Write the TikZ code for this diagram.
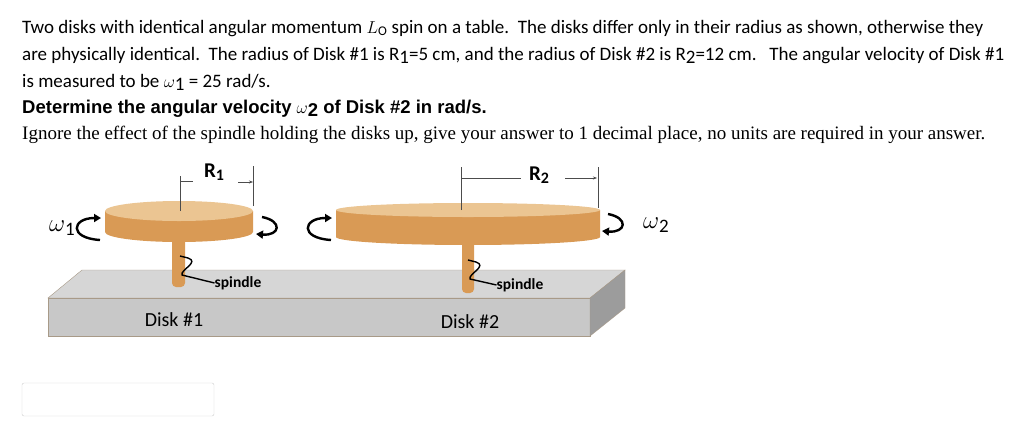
\documentclass[tikz,border=0pt]{standalone}
\usepackage{fontspec}
\setmainfont{Carlito}
\newfontfamily\seriff{Liberation Serif}
\usetikzlibrary{arrows.meta}
\newcommand{\lo}[1]{\raisebox{-0.35ex}{#1}}
\definecolor{dtop}{HTML}{EBC592}
\definecolor{dside}{HTML}{D99A55}
\definecolor{tedge}{HTML}{A89A88}
\definecolor{ttop}{HTML}{D6D6D6}
\definecolor{tfront}{HTML}{C8C8C8}
\definecolor{tside}{HTML}{9C9C9C}
\tikzset{
  txt/.style={anchor=base west,inner sep=0pt,font=\fontsize{19}{22}\selectfont},
  lab/.style={inner sep=0pt,font=\fontsize{20}{24}\selectfont},
  dim/.style={draw=black!70,line width=0.5pt},
  rot/.style={line width=2.4pt,-{Triangle[length=7pt,width=8pt]}},
  squig/.style={line width=1.4pt},
}
\begin{document}
\begin{tikzpicture}[x=1pt,y=-1pt]
\useasboundingbox (0,0) rectangle (1024,437);
\node[txt] (l1) at (22,33) {Two disks with identical angular momentum $L_{\mathrm{O}}$ spin on a table.\ \ The disks differ only in their radius as shown, otherwise they};
\node[txt] (l2) at (22,60) {are physically identical.\ \ The radius of Disk \#1 is R\lo{1}=5 cm, and the radius of Disk \#2 is R\lo{2}=12 cm.\ \ \ The angular velocity of Disk \#1};
\node[txt] (l3) at (22,87) {is measured to be $\omega$\lo{1} = 25 rad/s.};
\node[txt,font=\fontsize{18.5}{22}\bfseries\selectfont\fontspec{Liberation Sans}] (l4) at (22,113) {Determine the angular velocity $\omega$\lo{2} of Disk \#2 in rad/s.};
\node[txt,font=\fontsize{19}{22}\seriff] (l5) at (22,139) {Ignore the effect of the spindle holding the disks up, give your answer to 1 decimal place, no units are required in your answer.};
% table
\fill[ttop,draw=tedge] (48,298) -- (82,270) -- (625,270) -- (590,298) -- cycle;
\fill[tfront,draw=tedge] (48,298) rectangle (590,336);
\fill[tside,draw=tedge] (590,298) -- (625,270) -- (625,308) -- (590,336) -- cycle;
\node[lab] (d1) at (174,320) {Disk \#1};
\node[lab] (d2) at (470,322) {Disk \#2};
% spindles
\fill[dside,rounded corners=4pt] (172,236) rectangle (185,287);
\fill[dside,rounded corners=4pt] (462,240) rectangle (474,293);
% disk 1
\fill[dside] (105,211) -- (105,232) arc[start angle=180,end angle=0,x radius=74,y radius=10] -- (253,211) -- cycle;
\fill[dtop] (179,211) ellipse[x radius=74,y radius=10];
% disk 2
\fill[dside] (336,210) -- (336,237) arc[start angle=180,end angle=0,x radius=132,y radius=8] -- (600,210) -- cycle;
\fill[dtop] (468,210) ellipse[x radius=132,y radius=7];
% squiggles
\node[inner sep=0pt,font=\fontsize{15.5}{18}\bfseries\selectfont] (s1) at (238,283) {spindle};
\node[inner sep=0pt,font=\fontsize{15.5}{18}\bfseries\selectfont] (s2) at (520,285) {spindle};
\draw[squig] (180,256) -- (188,258) .. controls (200,262) and (180,270) .. (182,275) -- (s1.west);
\draw[squig] (468,260) -- (476,262) .. controls (488,266) and (468,274) .. (470,279) -- (s2.west);
% dimensions
\coordinate (c1) at (180,211); \coordinate (c1t) at (180,176);
\coordinate (e1) at (253,206); \coordinate (e1t) at (253,166);
\draw[dim] (c1) -- (c1t); \draw[dim] (e1) -- (e1t);
\node[lab,font=\fontsize{21}{24}\bfseries\selectfont] (r1) at (214,172) {R\lo{\fontsize{16}{18}\selectfont 1}};
\draw[dim] (180,181) -- (193,181);
\draw[dim,-{Stealth[length=4pt]}] (238,182) -- (253,182);
\coordinate (c2) at (461,210); \coordinate (c2t) at (461,167);
\coordinate (e2) at (598,208); \coordinate (e2t) at (598,167);
\draw[dim] (c2) -- (c2t); \draw[dim] (e2) -- (e2t);
\node[lab,font=\fontsize{21}{24}\bfseries\selectfont] (r2) at (539,175) {R\lo{\fontsize{16}{18}\selectfont 2}};
\draw[dim] (461,178) -- (521,178);
\draw[dim,-{Stealth[length=4pt]}] (565,178) -- (597,178);
% rotation arrows
\draw[rot] (100,240) .. controls (68,238) and (72,218) .. (101,218);
\draw[rot] (262,217) .. controls (283,221) and (280,236) .. (256,234);
\draw[rot] (331,240) .. controls (299,238) and (303,218) .. (332,218);
\draw[rot] (608,214) .. controls (629,218) and (626,233) .. (602,231);
\node[lab,font=\fontsize{26}{28}\selectfont] (w1) at (62,228) {$\omega$\lo{\fontsize{19}{20}\selectfont 1}};
\node[lab,font=\fontsize{26}{28}\selectfont] (w2) at (656,225) {$\omega$\lo{\fontsize{19}{20}\selectfont 2}};
% answer box
\draw[gray!40,rounded corners=2pt] (22,383) rectangle (214,416);
\end{tikzpicture}
\end{document}
